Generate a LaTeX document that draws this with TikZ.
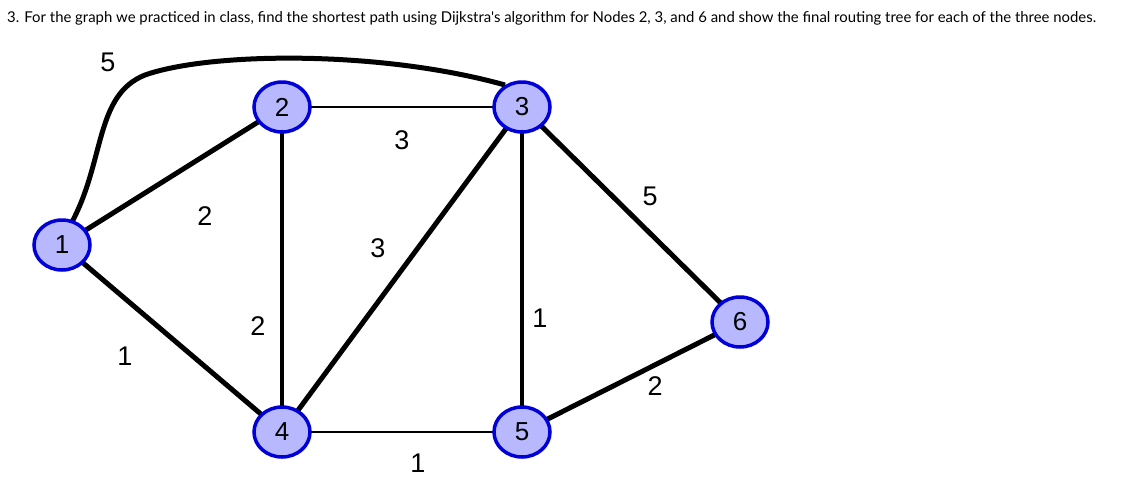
\documentclass[tikz,border=0pt]{standalone}
\usepackage{fontspec}
\usetikzlibrary{shapes.geometric}
\setmainfont{Liberation Sans}
\newfontfamily\titlefont{Lato}
\begin{document}
\begin{tikzpicture}[x=1pt,y=-1pt,
  vert/.style={ellipse,draw=blue!85!black,fill=blue!28!white,line width=3.5pt,minimum width=56pt,minimum height=50pt,inner sep=0pt,font=\fontsize{26}{26}\selectfont},
  lab/.style={font=\fontsize{27}{27}\selectfont},
  heavy/.style={line width=5pt},
  light/.style={line width=2.6pt}]
\useasboundingbox (0,0) rectangle (1137,480);
\node[anchor=west,inner sep=0pt,font=\titlefont\fontsize{14.9}{15}\selectfont] (title) at (7,18) {3. For the graph we practiced in class, find the shortest path using Dijkstra's algorithm for Nodes 2, 3, and 6 and show the final routing tree for each of the three nodes.};
\coordinate (p1) at (62,245);
\coordinate (p2) at (282,107);
\coordinate (p3) at (522,107);
\coordinate (p4) at (282,432);
\coordinate (p5) at (522,432);
\coordinate (p6) at (740,322);
\draw[heavy] (p1) -- (p2);
\draw[heavy] (p1) -- (p4);
\draw[heavy] (p3) -- (p4);
\draw[heavy] (p3) -- (p6);
\draw[heavy] (p5) -- (p6);
\draw[line width=3.8pt] (p2) -- (p4);
\draw[light] (p2) -- (p3);
\draw[light] (p4) -- (p5);
\draw[line width=3.4pt] (p3) -- (p5);
\draw[heavy] (72,222) .. controls (105,160) and (95,95) .. (145,75) .. controls (210,52) and (380,50) .. (505,85);
\node[vert] (n1) at (p1) {1};
\node[vert] (n2) at (p2) {2};
\node[vert] (n3) at (p3) {3};
\node[vert] (n4) at (p4) {4};
\node[vert] (n5) at (p5) {5};
\node[vert] (n6) at (p6) {6};
\node[lab] (l15) at (108,62) {5};
\node[lab] (l12) at (205,216) {2};
\node[lab] (l23) at (402,140) {3};
\node[lab] (l34) at (378,248) {3};
\node[lab] (l24) at (258,326) {2};
\node[lab] (l14) at (125,356) {1};
\node[lab] (l35) at (540,318) {1};
\node[lab] (l36) at (650,196) {5};
\node[lab] (l56) at (655,386) {2};
\node[lab] (l45) at (418,463) {1};
\end{tikzpicture}
\end{document}
